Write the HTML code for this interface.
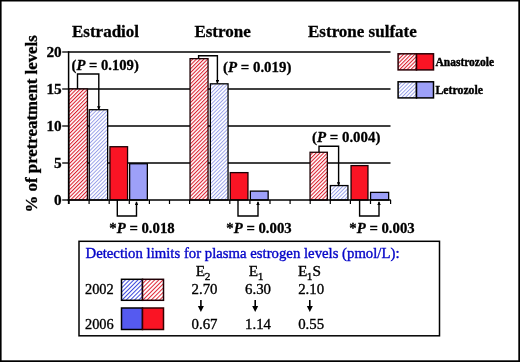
<!DOCTYPE html>
<html><head><meta charset="utf-8"><title>Figure</title>
<style>
html,body{margin:0;padding:0;background:#fff;}
body{width:520px;height:362px;overflow:hidden;}
svg{display:block;}
text{font-family:"Liberation Serif","Times New Roman",serif;fill:#000;}
.b{font-weight:bold;stroke:#000;stroke-width:0.3;}
.i{font-style:italic;}
.r{stroke:#000;stroke-width:0.35;}
</style></head><body>
<svg width="520" height="362" viewBox="0 0 520 362">
<defs>
<pattern id="hr" width="2.65" height="2.65" patternUnits="userSpaceOnUse" patternTransform="rotate(-45)">
<rect width="2.65" height="2.65" fill="#fff"/><rect y="0" width="2.65" height="1.05" fill="#dc1c2c"/>
</pattern>
<pattern id="hb" width="2.65" height="2.65" patternUnits="userSpaceOnUse" patternTransform="rotate(-45)">
<rect width="2.65" height="2.65" fill="#fff"/><rect y="0" width="2.65" height="0.95" fill="#969ee8"/>
</pattern>
<pattern id="hb2" width="2.95" height="2.95" patternUnits="userSpaceOnUse" patternTransform="rotate(-45)">
<rect width="2.95" height="2.95" fill="#fff"/><rect y="0" width="2.95" height="1.0" fill="#3c48dc"/>
</pattern>
<pattern id="hr2" width="2.95" height="2.95" patternUnits="userSpaceOnUse" patternTransform="rotate(-45)">
<rect width="2.95" height="2.95" fill="#fff"/><rect y="0" width="2.95" height="1.0" fill="#e02838"/>
</pattern>
<marker id="ah" viewBox="0 0 3.4 3.6" refX="3.2" refY="1.8" markerWidth="3.4" markerHeight="3.6" orient="auto" markerUnits="userSpaceOnUse">
<path d="M0,0 L3.4,1.8 L0,3.6 z" fill="#000"/></marker>
</defs>
<rect x="0" y="0" width="520" height="362" fill="#fff"/>

<rect x="0" y="0" width="1.6" height="362" fill="#000"/>
<rect x="0" y="0" width="520" height="1.5" fill="#000"/>
<rect x="518.3" y="0" width="1.7" height="362" fill="#000"/>
<rect x="0" y="360.3" width="520" height="1.7" fill="#000"/>
<line x1="68" y1="163.0" x2="390.5" y2="163.0" stroke="#000" stroke-width="1.3"/>
<line x1="68" y1="126.0" x2="390.5" y2="126.0" stroke="#000" stroke-width="1.3"/>
<line x1="68" y1="89.0" x2="390.5" y2="89.0" stroke="#000" stroke-width="1.3"/>
<line x1="68" y1="52.0" x2="390.5" y2="52.0" stroke="#000" stroke-width="1.3"/>
<line x1="62.2" y1="200.0" x2="68" y2="200.0" stroke="#000" stroke-width="1.3"/>
<text class="b" x="61.7" y="204.9" font-size="15.3" text-anchor="end">0</text>
<line x1="62.2" y1="163.0" x2="68" y2="163.0" stroke="#000" stroke-width="1.3"/>
<text class="b" x="61.7" y="167.9" font-size="15.3" text-anchor="end">5</text>
<line x1="62.2" y1="126.0" x2="68" y2="126.0" stroke="#000" stroke-width="1.3"/>
<text class="b" x="61.7" y="130.9" font-size="15.3" text-anchor="end">10</text>
<line x1="62.2" y1="89.0" x2="68" y2="89.0" stroke="#000" stroke-width="1.3"/>
<text class="b" x="61.7" y="93.9" font-size="15.3" text-anchor="end">15</text>
<line x1="62.2" y1="52.0" x2="68" y2="52.0" stroke="#000" stroke-width="1.3"/>
<text class="b" x="61.7" y="56.9" font-size="15.3" text-anchor="end">20</text>
<rect x="68.85" y="89.00" width="18.60" height="111.00" fill="url(#hr)" stroke="#1c0004" stroke-width="1.3"/>
<rect x="89.25" y="109.72" width="18.40" height="90.28" fill="url(#hb)" stroke="#000" stroke-width="1.3"/>
<rect x="109.95" y="146.72" width="17.60" height="53.28" fill="#fa1424" stroke="#1c0004" stroke-width="1.3"/>
<rect x="129.65" y="163.74" width="17.70" height="36.26" fill="#9da0f8" stroke="#000" stroke-width="1.3"/>
<rect x="190.05" y="58.66" width="18.00" height="141.34" fill="url(#hr)" stroke="#1c0004" stroke-width="1.3"/>
<rect x="210.35" y="83.82" width="17.70" height="116.18" fill="url(#hb)" stroke="#000" stroke-width="1.3"/>
<rect x="230.25" y="172.62" width="17.70" height="27.38" fill="#fa1424" stroke="#1c0004" stroke-width="1.3"/>
<rect x="250.35" y="191.12" width="17.80" height="8.88" fill="#9da0f8" stroke="#000" stroke-width="1.3"/>
<rect x="310.05" y="152.27" width="17.30" height="47.73" fill="url(#hr)" stroke="#1c0004" stroke-width="1.3"/>
<rect x="330.35" y="185.57" width="17.60" height="14.43" fill="url(#hb)" stroke="#000" stroke-width="1.3"/>
<rect x="351.05" y="165.59" width="16.90" height="34.41" fill="#fa1424" stroke="#1c0004" stroke-width="1.3"/>
<rect x="370.55" y="192.38" width="18.10" height="7.62" fill="#9da0f8" stroke="#000" stroke-width="1.3"/>
<line x1="68.6" y1="51.2" x2="68.6" y2="204" stroke="#000" stroke-width="1.5"/>
<line x1="67.5" y1="200" x2="390.8" y2="200" stroke="#000" stroke-width="1.4"/>
<line x1="69.0" y1="200" x2="69.0" y2="204" stroke="#000" stroke-width="1.2"/>
<line x1="89.1" y1="200" x2="89.1" y2="204" stroke="#000" stroke-width="1.2"/>
<line x1="109.2" y1="200" x2="109.2" y2="204" stroke="#000" stroke-width="1.2"/>
<line x1="129.3" y1="200" x2="129.3" y2="204" stroke="#000" stroke-width="1.2"/>
<line x1="149.4" y1="200" x2="149.4" y2="204" stroke="#000" stroke-width="1.2"/>
<line x1="169.5" y1="200" x2="169.5" y2="204" stroke="#000" stroke-width="1.2"/>
<line x1="189.6" y1="200" x2="189.6" y2="204" stroke="#000" stroke-width="1.2"/>
<line x1="209.7" y1="200" x2="209.7" y2="204" stroke="#000" stroke-width="1.2"/>
<line x1="229.8" y1="200" x2="229.8" y2="204" stroke="#000" stroke-width="1.2"/>
<line x1="249.9" y1="200" x2="249.9" y2="204" stroke="#000" stroke-width="1.2"/>
<line x1="270.0" y1="200" x2="270.0" y2="204" stroke="#000" stroke-width="1.2"/>
<line x1="290.1" y1="200" x2="290.1" y2="204" stroke="#000" stroke-width="1.2"/>
<line x1="310.2" y1="200" x2="310.2" y2="204" stroke="#000" stroke-width="1.2"/>
<line x1="330.3" y1="200" x2="330.3" y2="204" stroke="#000" stroke-width="1.2"/>
<line x1="350.4" y1="200" x2="350.4" y2="204" stroke="#000" stroke-width="1.2"/>
<line x1="370.5" y1="200" x2="370.5" y2="204" stroke="#000" stroke-width="1.2"/>
<line x1="390.6" y1="200" x2="390.6" y2="204" stroke="#000" stroke-width="1.2"/>
<text class="b" x="105.5" y="36.8" font-size="17" text-anchor="middle">Estradiol</text>
<text class="b" x="222.6" y="36.8" font-size="17" text-anchor="middle">Estrone</text>
<text class="b" x="362.4" y="36.8" font-size="17" text-anchor="middle">Estrone sulfate</text>
<text class="b" transform="translate(37,212.4) rotate(-90)" font-size="16.5" textLength="177.2" lengthAdjust="spacingAndGlyphs">% of pretreatment levels</text>
<text class="b" x="71.5" y="69.6" font-size="15.5" textLength="67.3" lengthAdjust="spacingAndGlyphs">(<tspan class="i">P</tspan> = 0.109)</text>
<text class="b" x="223" y="72" font-size="15.5" textLength="68.4" lengthAdjust="spacingAndGlyphs">(<tspan class="i">P</tspan> = 0.019)</text>
<text class="b" x="312.0" y="141.7" font-size="15.5" textLength="68.4" lengthAdjust="spacingAndGlyphs">(<tspan class="i">P</tspan> = 0.004)</text>
<text class="b" x="109.3" y="233.1" font-size="15.5" textLength="65.4" lengthAdjust="spacingAndGlyphs">*<tspan class="i">P</tspan> = 0.018</text>
<text class="b" x="226.3" y="233" font-size="15.5" textLength="65.4" lengthAdjust="spacingAndGlyphs">*<tspan class="i">P</tspan> = 0.003</text>
<text class="b" x="349.3" y="233" font-size="15.5" textLength="65.4" lengthAdjust="spacingAndGlyphs">*<tspan class="i">P</tspan> = 0.003</text>
<path d="M77.5,89 L77.5,74.0 L98.8,74.0 L98.8,109.5" fill="none" stroke="#000" stroke-width="1.4" marker-end="url(#ah)"/>
<path d="M198.6,58.5 L198.6,55.8 L217.4,55.8 L217.4,83.3" fill="none" stroke="#000" stroke-width="1.4" marker-end="url(#ah)"/>
<path d="M319,152 L319,146.2 L338.6,146.2 L338.6,185.5" fill="none" stroke="#000" stroke-width="1.4" marker-end="url(#ah)"/>
<path d="M117.3,200 L117.3,216 L136.5,216 L136.5,201.8" fill="none" stroke="#000" stroke-width="1.4" marker-end="url(#ah)"/>
<path d="M238,200 L238,216 L258,216 L258,201.8" fill="none" stroke="#000" stroke-width="1.4" marker-end="url(#ah)"/>
<path d="M359.6,200 L359.6,216 L379,216 L379,201.8" fill="none" stroke="#000" stroke-width="1.4" marker-end="url(#ah)"/>
<rect x="398.1" y="53.8" width="18.4" height="16.1" fill="url(#hr)" stroke="#2a0006" stroke-width="1.5"/>
<rect x="416.5" y="53.8" width="17" height="16.1" fill="#fa1424" stroke="#2a0006" stroke-width="1.5"/>
<rect x="398.1" y="81.8" width="18.4" height="16.1" fill="url(#hb)" stroke="#000" stroke-width="1.5"/>
<rect x="416.5" y="81.8" width="17" height="16.1" fill="#9da0f8" stroke="#000" stroke-width="1.5"/>
<text class="b" x="435.5" y="66.2" font-size="13.4" style="stroke-width:0.45" textLength="58.5" lengthAdjust="spacingAndGlyphs">Anastrozole</text>
<text class="b" x="435.5" y="94.3" font-size="13.4" style="stroke-width:0.45" textLength="47.5" lengthAdjust="spacingAndGlyphs">Letrozole</text>
<rect x="79" y="241.3" width="360.5" height="94.5" fill="#fff" stroke="#000" stroke-width="1.5"/>
<text x="85.5" y="258.4" font-size="15.5" style="fill:#0606c8;stroke:#0606c8;stroke-width:0.4" textLength="314" lengthAdjust="spacingAndGlyphs">Detection limits for plasma estrogen levels (pmol/L):</text>
<text x="85" y="293.8" font-size="15" class="r" textLength="28.7" lengthAdjust="spacingAndGlyphs">2002</text>
<text x="85" y="329" font-size="15" class="r" textLength="28.7" lengthAdjust="spacingAndGlyphs">2006</text>
<rect x="121.5" y="279.3" width="21" height="21" fill="url(#hb2)" stroke="#000" stroke-width="1.5"/>
<rect x="142.5" y="279.3" width="21" height="21" fill="url(#hr2)" stroke="#200006" stroke-width="1.5"/>
<rect x="121.5" y="308" width="21" height="21.5" fill="#555af0" stroke="#000" stroke-width="1.5"/>
<rect x="142.5" y="308" width="21" height="21.5" fill="#fa1424" stroke="#300" stroke-width="1.5"/>
<text x="195.8" y="276" font-size="15.3" class="r">E<tspan font-size="11.3" dy="4.2" dx="-0.5">2</tspan></text><text x="191.5" y="293.8" font-size="15" class="r" textLength="26" lengthAdjust="spacingAndGlyphs">2.70</text><text x="191.5" y="329" font-size="15" class="r" textLength="26" lengthAdjust="spacingAndGlyphs">0.67</text>
<text x="248.8" y="276" font-size="15.3" class="r">E<tspan font-size="11.3" dy="4.2" dx="-0.5">1</tspan></text><text x="245" y="293.8" font-size="15" class="r" textLength="26" lengthAdjust="spacingAndGlyphs">6.30</text><text x="245" y="329" font-size="15" class="r" textLength="26" lengthAdjust="spacingAndGlyphs">1.14</text>
<text x="298" y="276" font-size="15.3" class="r">E<tspan font-size="11.3" dy="4.2" dx="-0.5">1</tspan><tspan dy="-4.2" font-size="15.3">S</tspan></text><text x="298.2" y="293.8" font-size="15" class="r" textLength="26" lengthAdjust="spacingAndGlyphs">2.10</text><text x="298.2" y="329" font-size="15" class="r" textLength="26" lengthAdjust="spacingAndGlyphs">0.55</text>
<path d="M200.9,300 L200.9,307" stroke="#000" stroke-width="1.6" fill="none"/><path d="M197.9,306 L203.9,306 L200.9,312 z" fill="#000"/>
<path d="M255.2,300 L255.2,307" stroke="#000" stroke-width="1.6" fill="none"/><path d="M252.2,306 L258.2,306 L255.2,312 z" fill="#000"/>
<path d="M309.8,300 L309.8,307" stroke="#000" stroke-width="1.6" fill="none"/><path d="M306.8,306 L312.8,306 L309.8,312 z" fill="#000"/>
</svg></body></html>
